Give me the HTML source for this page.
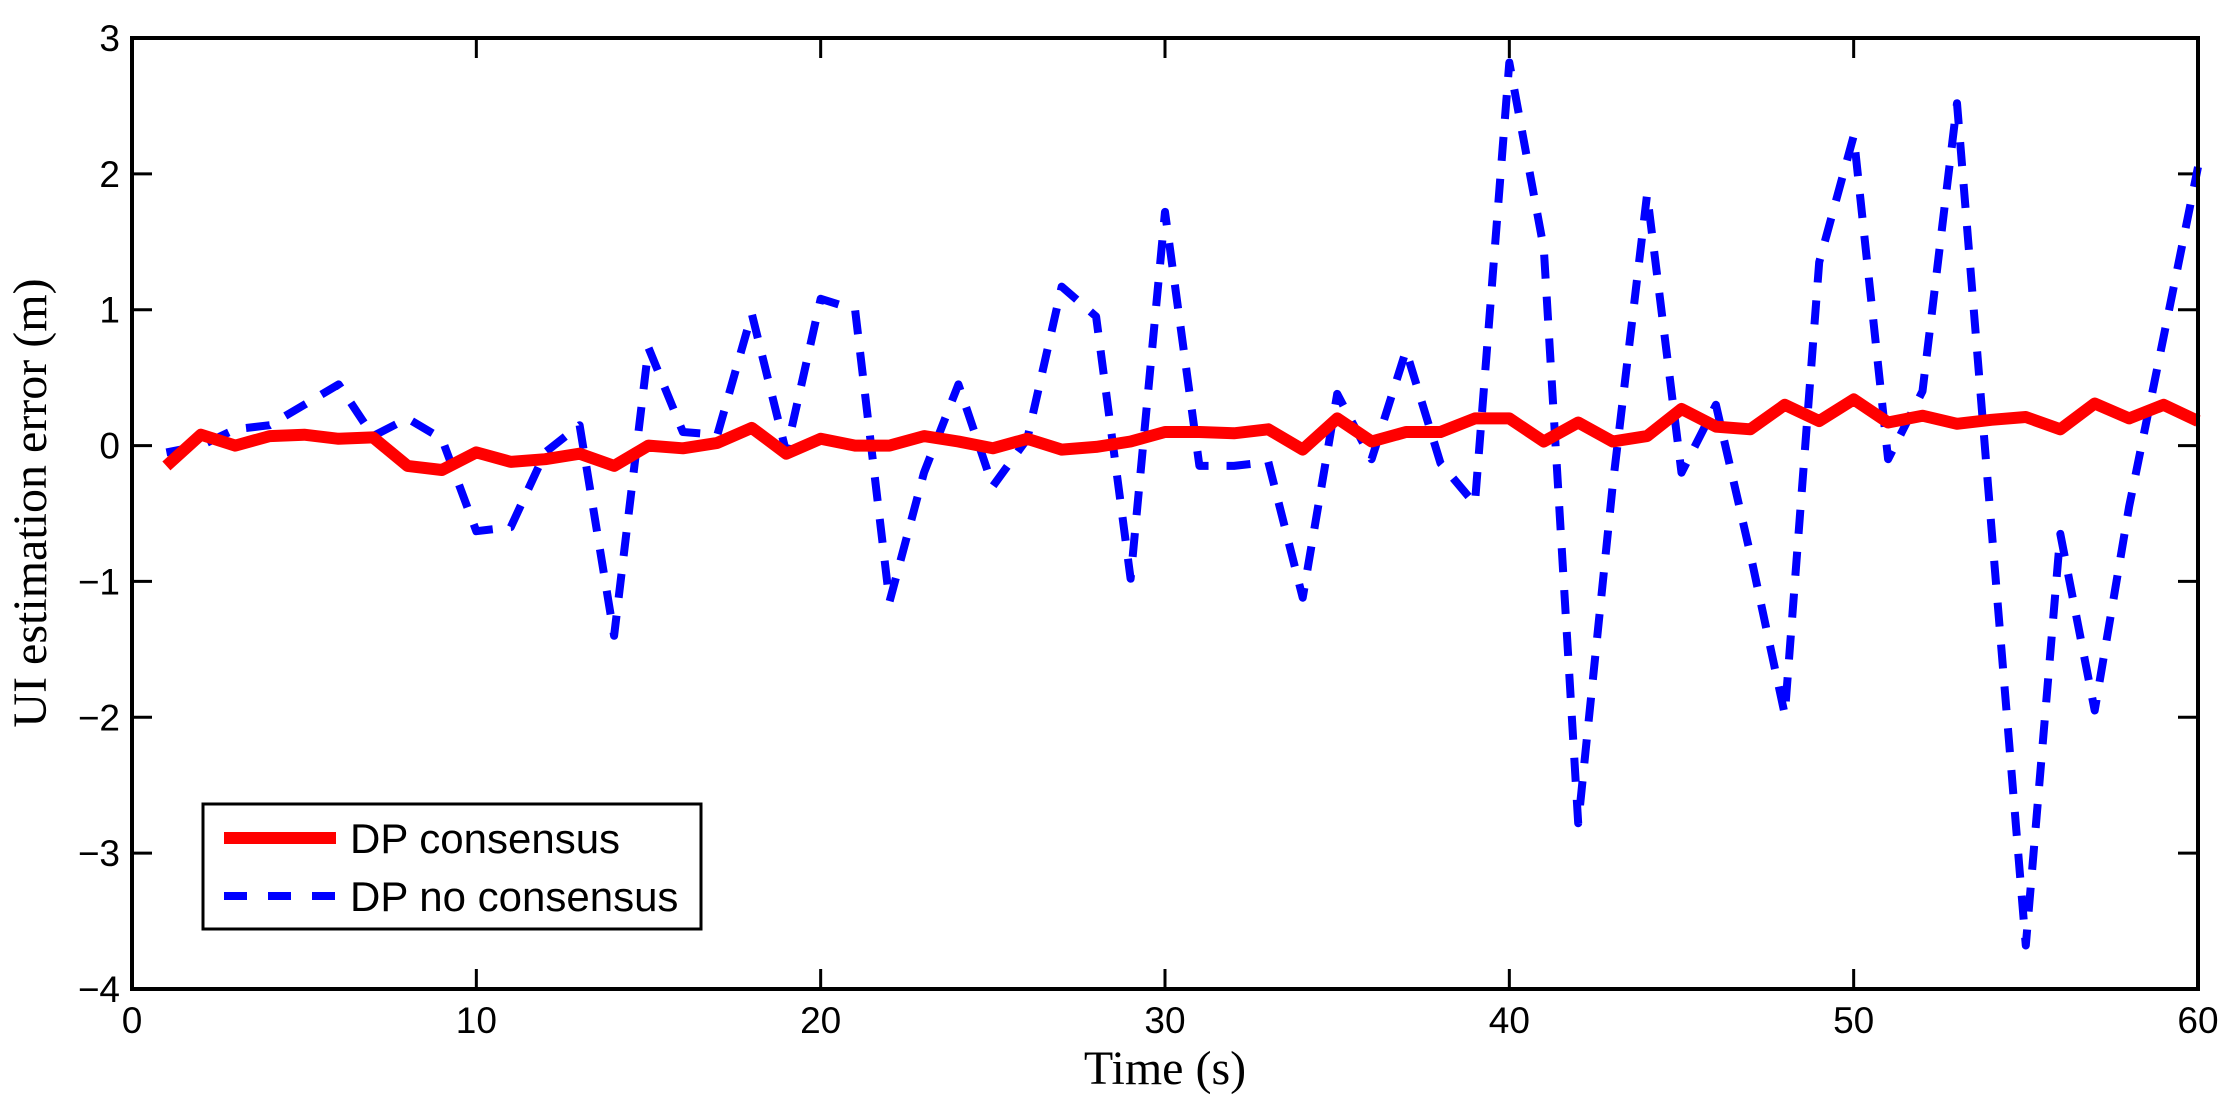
<!DOCTYPE html>
<html><head><meta charset="utf-8"><style>
html,body{margin:0;padding:0;background:#fff}
svg{display:block}
text{font-family:"Liberation Sans",sans-serif}
</style></head><body>
<svg id="s" width="2237" height="1108" xmlns="http://www.w3.org/2000/svg">
<rect width="2237" height="1108" fill="#fff"/>
<g id="ticks" stroke="#000" stroke-width="3"></g>
<g id="lbl" font-size="37" fill="#000"></g>
<polyline id="blue" fill="none" stroke="#0000ff" stroke-width="8" stroke-dasharray="24,18" stroke-linejoin="round"/>
<polyline id="red" fill="none" stroke="#ff0000" stroke-width="12" stroke-linejoin="round"/>
<rect x="132" y="38" width="2066" height="951" fill="none" stroke="#000" stroke-width="4"/>
<text x="1165" y="1084" font-size="48" text-anchor="middle" style="font-family:'Liberation Serif',serif">Time (s)</text>
<text transform="translate(46,503) rotate(-90)" font-size="48" text-anchor="middle" style="font-family:'Liberation Serif',serif">UI estimation error (m)</text>
<rect x="203" y="804" width="498" height="125" fill="#fff" stroke="#000" stroke-width="3"/>
<line x1="224" y1="838" x2="336" y2="838" stroke="#ff0000" stroke-width="12"/>
<line x1="224" y1="896" x2="336" y2="896" stroke="#0000ff" stroke-width="8" stroke-dasharray="23,21"/>
<text x="350" y="853" font-size="42">DP consensus</text>
<text x="350" y="911" font-size="42">DP no consensus</text>
</svg>
<script>
var X=t=>132+t*2066/60, Y=v=>38+(3-v)*951/7;
var r=[-0.15,0.08,0.0,0.07,0.08,0.05,0.06,-0.15,-0.18,-0.05,-0.12,-0.1,-0.06,-0.15,0.0,-0.02,0.02,0.13,-0.06,0.05,0.0,0.0,0.07,0.03,-0.02,0.05,-0.03,-0.01,0.03,0.1,0.1,0.09,0.12,-0.03,0.2,0.03,0.1,0.1,0.2,0.2,0.03,0.17,0.03,0.07,0.27,0.14,0.12,0.3,0.18,0.34,0.17,0.22,0.16,0.19,0.21,0.12,0.31,0.2,0.3,0.18];
var b=[-0.05,0.0,0.12,0.15,0.3,0.45,0.07,0.2,0.05,-0.63,-0.6,-0.05,0.15,-1.4,0.72,0.1,0.08,0.97,-0.05,1.08,1.0,-1.15,-0.2,0.45,-0.3,0.05,1.17,0.95,-0.98,1.72,-0.15,-0.15,-0.12,-1.12,0.38,-0.1,0.7,-0.13,-0.43,2.82,1.45,-2.78,-0.3,1.85,-0.2,0.3,-0.8,-1.98,1.35,2.28,-0.1,0.4,2.52,-0.6,-3.68,-0.65,-1.95,-0.45,0.8,2.05];
function pts(a){return a.map((v,i)=>X(i+1).toFixed(1)+","+Y(v).toFixed(1)).join(" ");}
document.getElementById("red").setAttribute("points",pts(r));
document.getElementById("blue").setAttribute("points",pts(b));
var tk="",lb="";
for(var t=0;t<=60;t+=10){var x=X(t);tk+=`<line x1="${x}" y1="989" x2="${x}" y2="969"/><line x1="${x}" y1="38" x2="${x}" y2="58"/>`;lb+=`<text x="${x}" y="1033" text-anchor="middle">${t}</text>`;}
for(var v=-4;v<=3;v++){var y=Y(v);tk+=`<line x1="132" y1="${y}" x2="152" y2="${y}"/><line x1="2198" y1="${y}" x2="2178" y2="${y}"/>`;lb+=`<text x="120" y="${y+13}" text-anchor="end">${v<0?"\u2212"+(-v):v}</text>`;}
document.getElementById("ticks").innerHTML=tk;document.getElementById("lbl").innerHTML=lb;
</script>
</body></html>
